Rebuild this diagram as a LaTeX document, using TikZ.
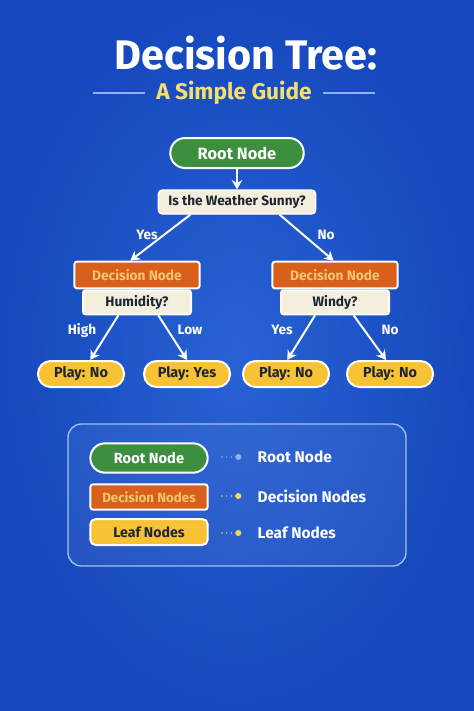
\documentclass[tikz,border=0pt]{standalone}
\usepackage{fontspec}
\setmainfont{Fira Sans}
\usepackage{xcolor}
\usetikzlibrary{arrows.meta,positioning}

\definecolor{bgdark}{HTML}{1548BC}
\definecolor{bglight}{HTML}{2862D4}
\definecolor{rootgreen}{HTML}{3C8F3F}
\definecolor{decorange}{HTML}{D9601C}
\definecolor{dectext}{HTML}{F7C66A}
\definecolor{cream}{HTML}{F4EEDC}
\definecolor{inkdark}{HTML}{1E2636}
\definecolor{leafyellow}{HTML}{F7C234}
\definecolor{subyellow}{HTML}{F4DF6E}
\definecolor{rulelight}{HTML}{8FB0E8}
\definecolor{dotblue}{HTML}{8FB4F0}
\definecolor{dotyellow}{HTML}{F6D65A}

\begin{document}
\begin{tikzpicture}[x=0.75pt, y=-0.75pt,
  every node/.style={font=\bfseries},
  rootpill/.style={draw=white, line width=1.5pt, fill=rootgreen, text=white, rounded corners=11pt,
    minimum width=100pt, minimum height=22.5pt, font=\bfseries\fontsize{12.3}{14}\selectfont},
  question/.style={draw=white, line width=1pt, fill=cream, text=inkdark, rounded corners=3pt,
    minimum width=118pt, minimum height=18pt, font=\bfseries\fontsize{10.2}{12}\selectfont},
  header/.style={draw=white, line width=1.5pt, fill=decorange, text=dectext, rounded corners=2pt,
    minimum width=94pt, minimum height=20pt, font=\bfseries\fontsize{10.3}{12}\selectfont},
  attr/.style={draw=white, line width=1.5pt, fill=cream, text=inkdark, rounded corners=2pt,
    minimum width=81pt, minimum height=18pt, font=\bfseries\fontsize{10.3}{12}\selectfont},
  leaf/.style={draw=white, line width=1.5pt, fill=leafyellow, text=inkdark, rounded corners=9.5pt,
    minimum width=64.5pt, minimum height=19.5pt, font=\bfseries\fontsize{10.8}{12}\selectfont},
  branch/.style={text=white, font=\bfseries\fontsize{10.2}{12}\selectfont},
  arrow/.style={-{Stealth[length=7pt, width=8pt]}, white, line width=1.5pt},
  legtext/.style={anchor=west, text=white, font=\bfseries\fontsize{11.6}{13}\selectfont},
  dots/.style={line width=1.2pt, line cap=round, dash pattern=on 0pt off 3.5pt},
]

% background
\shade[inner color=bglight, outer color=bgdark] (0,0) rectangle (474,711);
\useasboundingbox (0,0) rectangle (474,711);

% title
\node[inner sep=0pt, text=white, font=\bfseries\fontsize{31}{34}\selectfont] (title) at (246,53) {Decision Tree:};
\node[inner sep=0pt, text=subyellow, font=\bfseries\fontsize{17}{20}\selectfont] (subtitle) at (234,93) {A Simple Guide};
\draw[rulelight, line width=0.9pt] ([xshift=-8pt]subtitle.west) -- ++(-39pt,0);
\draw[rulelight, line width=0.9pt] ([xshift=8pt]subtitle.east) -- ++(39pt,0);

% tree
\node[rootpill] (root) at (237,153) {Root Node};
\node[question] (q) at (237,202) {Is the Weather Sunny?};

\node[header] (decL) at (137,275) {Decision Node};
\node[attr, below=0pt of decL] (humid) {Humidity?};
\node[header] (decR) at (335,275) {Decision Node};
\node[attr, below=0pt of decR] (windy) {Windy?};

\node[leaf] (leaf1) at (81,374) {Play: No};
\node[leaf] (leaf2) at (187,374) {Play: Yes};
\node[leaf] (leaf3) at (286,374) {Play: No};
\node[leaf] (leaf4) at (390,374) {Play: No};

\draw[arrow] (root.south) -- (q.north);
\draw[arrow] ([xshift=-35pt]q.south) -- ([xshift=-5pt]decL.north);
\draw[arrow] ([xshift=32pt]q.south) -- ([xshift=-1pt]decR.north);
\draw[arrow] ([xshift=-14pt]humid.south) -- ([xshift=7pt]leaf1.north);
\draw[arrow] ([xshift=16pt]humid.south) -- (leaf2.north);
\draw[arrow] ([xshift=-15pt]windy.south) -- ([xshift=1pt]leaf3.north);
\draw[arrow] ([xshift=14pt]windy.south) -- ([xshift=-3pt]leaf4.north);

\node[branch] (yesA) at (147,235) {Yes};
\node[branch] (noA) at (326,235) {No};
\node[branch] (high) at (82,330) {High};
\node[branch] (low) at (190,330) {Low};
\node[branch] (yesB) at (282,330) {Yes};
\node[branch] (noB) at (390,330) {No};

% legend
\draw[rulelight!80, line width=1pt, fill=white, fill opacity=0.06, rounded corners=10pt]
  (68,424) rectangle (406,566);

\node[rootpill, minimum width=88pt, minimum height=22pt, font=\bfseries\fontsize{11}{13}\selectfont] (lgRoot) at (149,458) {Root Node};
\node[header, minimum width=88pt, minimum height=19pt, font=\bfseries\fontsize{10}{12}\selectfont] (lgDec) at (149,497) {Decision Nodes};
\node[leaf, rounded corners=4pt, minimum width=88pt, minimum height=19.5pt, font=\bfseries\fontsize{10.6}{12}\selectfont] (lgLeaf) at (149,532) {Leaf Nodes};

\node[legtext] (txtRoot) at (253,457) {Root Node};
\node[legtext] (txtDec) at (253,496) {Decision Nodes};
\node[legtext] (txtLeaf) at (253,533) {Leaf Nodes};

\draw[dots, dotblue] ([xshift=10pt]lgRoot.east |- txtRoot.west) -- ([xshift=-11pt]txtRoot.west);
\fill[dotblue] ([xshift=-11pt]txtRoot.west) circle (3);
\draw[dots, dotyellow] ([xshift=10pt]lgDec.east |- txtDec.west) -- ([xshift=-11pt]txtDec.west);
\fill[dotyellow] ([xshift=-11pt]txtDec.west) circle (3);
\draw[dots, dotyellow] ([xshift=10pt]lgLeaf.east |- txtLeaf.west) -- ([xshift=-11pt]txtLeaf.west);
\fill[dotyellow] ([xshift=-11pt]txtLeaf.west) circle (3);

\end{tikzpicture}
\end{document}
